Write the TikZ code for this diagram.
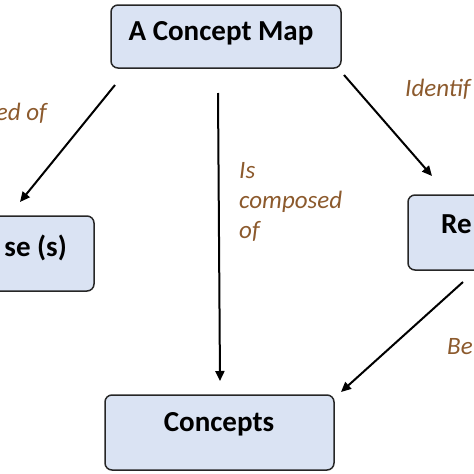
\documentclass[tikz,border=0pt]{standalone}
\usepackage{fontspec}
\setmainfont{Carlito}
\usetikzlibrary{arrows.meta}
\definecolor{boxfill}{RGB}{218,227,243}
\definecolor{lbl}{RGB}{140,90,45}
\tikzset{
 box/.style={draw=black!85,line width=1.5pt,fill=boxfill,rounded corners=7pt,inner sep=0pt},
 btxt/.style={font=\bfseries\fontsize{29}{34}\selectfont,inner sep=0pt},
 lab/.style={text=lbl,font=\itshape\fontsize{25}{30}\selectfont,inner sep=0pt},
 arr/.style={-{Triangle[length=10pt,width=9pt]},line width=2pt}
}
\begin{document}
\begin{tikzpicture}[x=1pt,y=-1pt]
\useasboundingbox (0,0) rectangle (474,474);
\clip (0,0) rectangle (474,474);
\node[box,minimum width=230pt,minimum height=63pt] (top) at (226,36.5) {};
\node[btxt] (toptxt) at (221,33) {A Concept Map};
\node[box,minimum width=230pt,minimum height=75pt] (left) at (-21,253.5) {};
\node[btxt,anchor=east] (lefttxt) at (67,248) {se (s)};
\node[box,minimum width=230pt,minimum height=75pt] (right) at (523,232.5) {};
\node[btxt,anchor=west] (righttxt) at (441,224) {Re};
\node[box,minimum width=229pt,minimum height=75pt] (bot) at (219.5,432.5) {};
\node[btxt] (bottxt) at (219,424) {Concepts};
\coordinate (a1) at (115,85); \coordinate (b1) at (20,202);
\coordinate (a2) at (218,93); \coordinate (b2) at (220,381);
\coordinate (a3) at (344,75); \coordinate (b3) at (432,176);
\coordinate (a4) at (463,282); \coordinate (b4) at (341,392);
\draw[arr] (a1) -- (b1);
\draw[arr] (a2) -- (b2);
\draw[arr] (a3) -- (b3);
\draw[arr] (a4) -- (b4);
\node[lab,anchor=east] (l1) at (47,113) {ed of};
\node[lab,anchor=west] (l3) at (405,89) {Identif};
\node[lab,anchor=north west,align=left] (l2) at (239,162) {Is\\composed\\of};
\node[lab,anchor=west] (l4) at (447,347) {Be};
\end{tikzpicture}
\end{document}
